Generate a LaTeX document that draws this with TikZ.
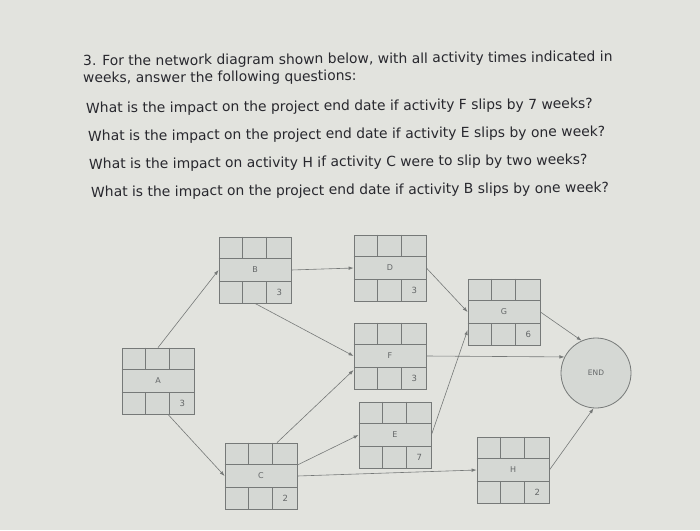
\documentclass[tikz,border=0pt]{standalone}
\usepackage{fontspec}
\setmainfont{DejaVu Sans}
\usetikzlibrary{shapes,arrows.meta}
\definecolor{pg_back}{RGB}{226, 227, 222}
\definecolor{pg_box}{RGB}{213, 216, 212}
\definecolor{pg_line}{RGB}{118, 121, 120}
\definecolor{pg_text}{RGB}{40, 40, 46}
\definecolor{pg_label}{RGB}{100, 103, 104}
\tikzstyle{act}=[rectangle,fill=pg_box,draw=pg_line,line width=0.8pt,
  inner sep=0pt,minimum width=72pt,minimum height=66pt,text=pg_label,
  font=\fontsize{8}{9}\selectfont]
\tikzstyle{cell}=[draw=pg_line,line width=0.8pt]
\tikzstyle{dur}=[text=pg_label,inner sep=0pt,font=\fontsize{8.5}{9}\selectfont]
\tikzstyle{endn}=[circle,fill=pg_box,draw=pg_line,line width=0.8pt,
  minimum size=70pt,inner sep=0pt,text=pg_label,font=\fontsize{7.5}{8}\selectfont]
\tikzstyle{arr}=[draw=pg_line,line width=0.6pt,-{Latex[length=5pt,width=3.5pt]}]
\tikzstyle{quest}=[anchor=base west,inner sep=0pt,text=pg_text,rotate=0.5,
  font=\fontsize{13.9}{16}\selectfont]

\begin{document}
\begin{tikzpicture}[x=1pt,y=-1pt]
    \fill [pg_back] (0,0) rectangle (700,530);
    \useasboundingbox (0,0) rectangle (700,530);
    \node [style=quest] (q1) at (83,66) {3. For the network diagram shown below, with all activity times indicated in};
    \node [style=quest] (q2) at (83,83) {weeks, answer the following questions:};
    \node [style=quest] (q3) at (86,113) {What is the impact on the project end date if activity F slips by 7 weeks?};
    \node [style=quest] (q4) at (88,141) {What is the impact on the project end date if activity E slips by one week?};
    \node [style=quest] (q5) at (89,169) {What is the impact on activity H if activity C were to slip by two weeks?};
    \node [style=quest] (q6) at (91,197) {What is the impact on the project end date if activity B slips by one week?};
    \foreach \n/\x/\y/\d in {A/158/381/3,B/255/270/3,C/261/476/2,D/390/268/3,
                             F/390/356/3,E/395/435/7,G/504/312/6,H/513/470/2} {
        \node [style=act] (\n) at (\x,\y) {\n};
        \draw [style=cell] ([yshift=-22pt]\n.north west) to ([yshift=-22pt]\n.north east);
        \draw [style=cell] ([yshift=22pt]\n.south west) to ([yshift=22pt]\n.south east);
        \draw [style=cell] ([xshift=24pt]\n.north west) to ([xshift=24pt,yshift=-22pt]\n.north west);
        \draw [style=cell] ([xshift=48pt]\n.north west) to ([xshift=48pt,yshift=-22pt]\n.north west);
        \draw [style=cell] ([xshift=24pt]\n.south west) to ([xshift=24pt,yshift=22pt]\n.south west);
        \draw [style=cell] ([xshift=48pt]\n.south west) to ([xshift=48pt,yshift=22pt]\n.south west);
        \node [style=dur] (\n d) at ([xshift=-12pt,yshift=11pt]\n.south east) {\d};
    }
    \node [style=endn] (end) at (596,373) {END};
    \draw [style=arr] (A.north) to (B.west);
    \draw [style=arr] ([xshift=10pt]A.south) to (C.west);
    \draw [style=arr] (B.east) to (D.west);
    \draw [style=arr] (B.south) to (F.west);
    \draw [style=arr] ([xshift=16pt]C.north) to ([yshift=-14pt]F.west);
    \draw [style=arr] ([yshift=11pt]C.east) to (E.west);
    \draw [style=arr] (C.east) to (H.west);
    \draw [style=arr] (D.east) to (G.west);
    \draw [style=arr] (E.east) to ([yshift=-18pt]G.west);
    \draw [style=arr] (F.east) to (end.153);
    \draw [style=arr] (G.east) to (end.114);
    \draw [style=arr] (H.east) to (end.266);
\end{tikzpicture}
\end{document}
